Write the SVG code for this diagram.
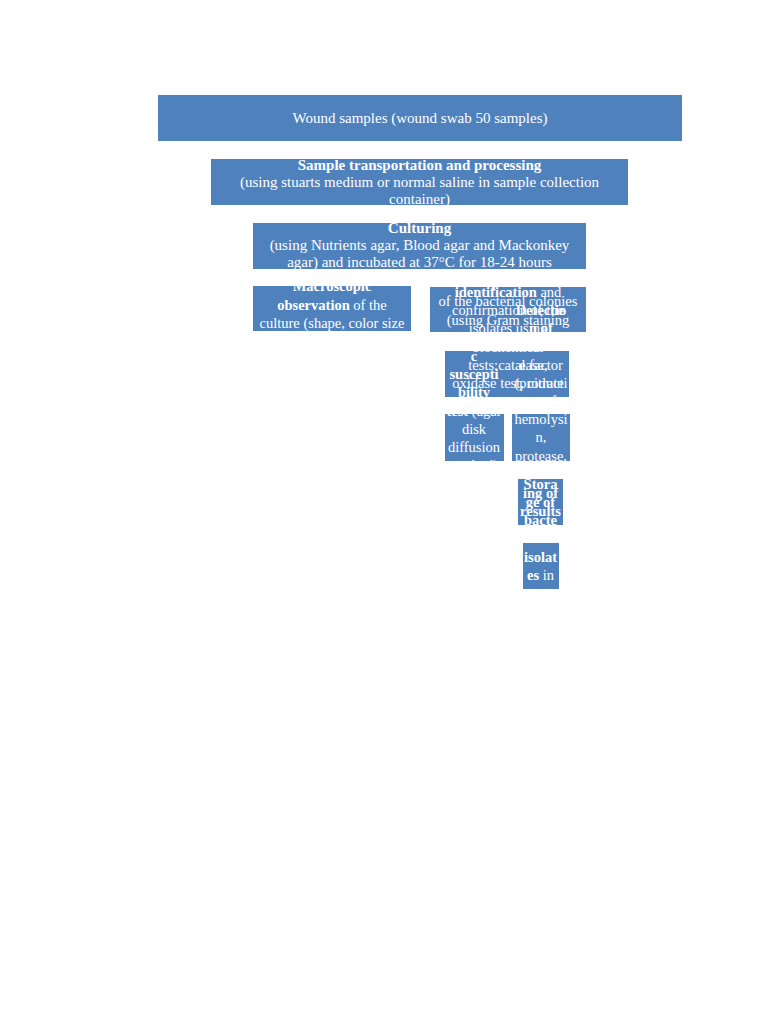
<svg xmlns="http://www.w3.org/2000/svg" width="768" height="1024" viewBox="0 0 768 1024">
<style>
.box{fill:#4F81BD;}
.t{font-family:"Liberation Serif","Times New Roman",serif;fill:#FFFFFF;text-anchor:middle;}
.t15{font-size:15px;}
.t14{font-size:14.5px;}
.b{font-weight:bold;}
</style>
<rect width="768" height="1024" fill="#FFFFFF"/>
<g id="connectors"></g>
<g id="node-wound-samples">
<rect class="box" x="158" y="95" width="524" height="46"/>
<text class="t t15" x="420" y="123">Wound samples (wound swab 50 samples)</text>
</g>
<g id="node-transportation">
<rect class="box" x="211" y="159" width="417" height="46"/>
<text class="t t15 b" x="419.5" y="170">Sample transportation and processing</text>
<text class="t t15" x="419.5" y="187">(using stuarts medium or normal saline in sample collection</text>
<text class="t t15" x="419.5" y="204">container)</text>
</g>
<g id="node-culturing">
<rect class="box" x="253" y="223" width="333" height="46"/>
<text class="t t15 b" x="419.5" y="233">Culturing</text>
<text class="t t15" x="419.5" y="250">(using Nutrients agar, Blood agar and Mackonkey</text>
<text class="t t15" x="419.5" y="267">agar) and incubated at 37°C for 18-24 hours</text>
</g>
<g id="node-macroscopic">
<rect class="box" x="253" y="286" width="158" height="45"/>
<text class="t t14 b" x="332" y="291">Macroscopic</text>
<text class="t t14" x="332" y="309.5"><tspan class="b">observation</tspan> of the</text>
<text class="t t14" x="332" y="328">culture (shape, color size</text>
</g>
<g id="node-microscopic">
<rect class="box" x="430" y="287" width="156" height="45"/>
<text class="t t14" x="508" y="287"><tspan class="b">Microscopic</tspan> observation</text>
<text class="t t14" x="508" y="306">of the bacterial colonies</text>
<text class="t t14" x="508" y="325">(using Gram staining</text>
</g>
<g id="node-identification">
<rect class="box" x="445" y="351" width="124" height="46"/>
<text class="t t14" x="508" y="297"><tspan class="b">identification</tspan>  and</text>
<text class="t t14" x="508" y="315.2">confirmation of the</text>
<text class="t t14" x="508" y="333.4">isolates using</text>
<text class="t t14" x="508" y="351.6">biochemical</text>
<text class="t t14" x="508" y="369.8">tests:catalase,</text>
<text class="t t14" x="508" y="388">oxidase test, citrate</text>
</g>
<g id="node-virulence">
<rect class="box" x="512" y="414" width="58" height="47"/>
<text class="t t14 b" x="541" y="315">Detectio</text>
<text class="t t14 b" x="541" y="333.2">n of</text>
<text class="t t14 b" x="541" y="351.4">virulenc</text>
<text class="t t14" x="541" y="369.6"><tspan class="b">e</tspan> factor</text>
<text class="t t14" x="541" y="387.8">(producti</text>
<text class="t t14" x="541" y="406">on of</text>
<text class="t t14" x="541" y="424.2">hemolysi</text>
<text class="t t14" x="541" y="442.4">n,</text>
<text class="t t14" x="541" y="460.6">protease,</text>
</g>
<g id="node-susceptibility">
<rect class="box" x="445" y="414" width="59" height="47"/>
<text class="t t14 b" x="474" y="361">c</text>
<text class="t t14 b" x="474" y="379.2">suscepti</text>
<text class="t t14 b" x="474" y="397.4">bility</text>
<text class="t t14" x="474" y="415.6"><tspan class="b">test</tspan> (agar</text>
<text class="t t14" x="474" y="433.8">disk</text>
<text class="t t14" x="474" y="452">diffusion</text>
<text class="t t14" x="474" y="470.2">method)</text>
</g>
<g id="node-recording">
<rect class="box" x="518" y="479" width="45" height="46"/>
<text class="t t14 b" x="540.5" y="498">ing of</text>
<text class="t t14 b" x="540.5" y="516">results</text>
</g>
<g id="node-storage">
<rect class="box" x="523" y="543" width="36" height="46"/>
<text class="t t14 b" x="540.5" y="489">Stora</text>
<text class="t t14 b" x="540.5" y="507.2">ge of</text>
<text class="t t14 b" x="540.5" y="525.4">bacte</text>
<text class="t t14 b" x="540.5" y="561.8">isolat</text>
<text class="t t14" x="540.5" y="580"><tspan class="b">es</tspan> in</text>
</g>
</svg>
